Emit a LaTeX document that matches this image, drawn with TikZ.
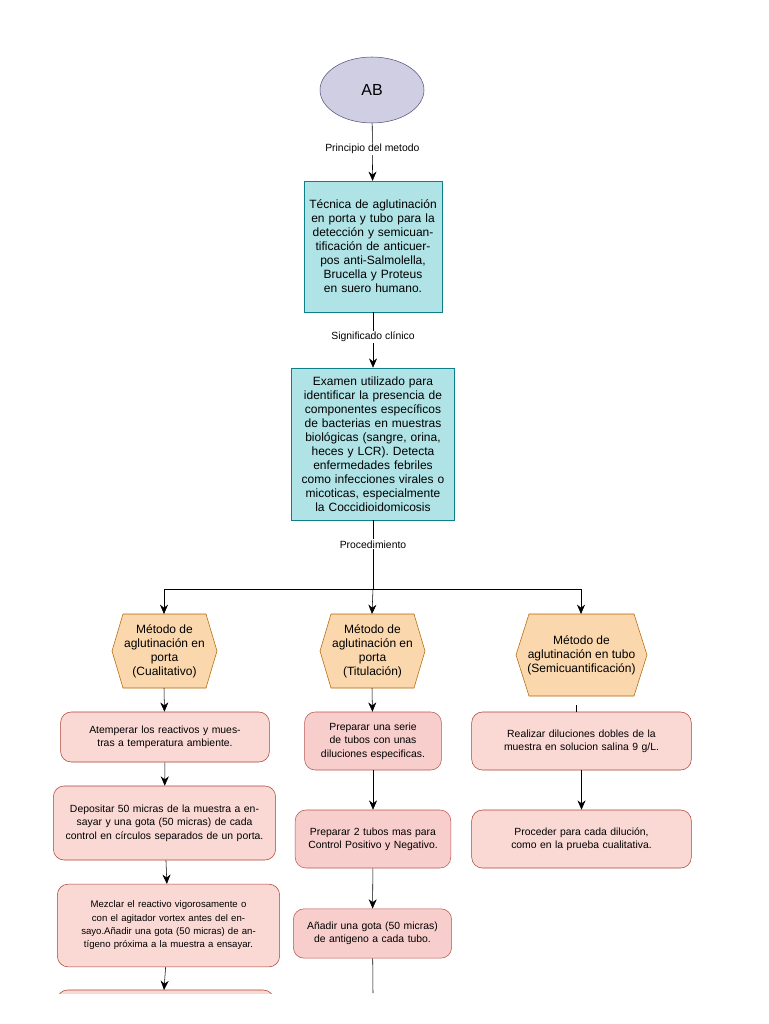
\documentclass[tikz,border=0pt]{standalone}
\usepackage{fontspec}
\setmainfont{Liberation Sans}
\usetikzlibrary{shapes.geometric,arrows.meta}
\definecolor{ellf}{HTML}{D0CEE2}\definecolor{elld}{HTML}{56517E}
\definecolor{cyf}{HTML}{B0E3E6}\definecolor{cyd}{HTML}{0E8088}
\definecolor{orf}{HTML}{FAD7AC}\definecolor{ord}{HTML}{B46504}
\definecolor{pkf}{HTML}{FAD9D5}\definecolor{pkd}{HTML}{AE4132}
\definecolor{pk2f}{HTML}{F8CECC}\definecolor{pk2d}{HTML}{B85450}
\begin{document}
\begin{tikzpicture}[x=0.75pt,y=-0.75pt,
 cy/.style={draw=cyd,fill=cyf,align=center,font=\fontsize{9}{10.5}\selectfont,inner sep=1pt},
 hx/.style={regular polygon,regular polygon sides=6,shape border rotate=30,draw=ord,fill=orf},
 pk/.style={draw=pkd,fill=pkf,rounded corners=8pt,align=center,font=\fontsize{7.8}{10}\selectfont},
 pk2/.style={draw=pk2d,fill=pk2f,rounded corners=8pt,align=center,font=\fontsize{7.8}{10}\selectfont},
 lab/.style={fill=white,font=\fontsize{7.8}{9}\selectfont,inner sep=1pt},
 ar/.style={-{Stealth[length=7pt,width=6pt]},black}]
\useasboundingbox (0,0) rectangle (768,1024);
\fill[white] (0,0) rectangle (768,1024);
% ellipse
\node[ellipse,draw=elld,fill=ellf,minimum width=78pt,minimum height=49.5pt,font=\fontsize{12}{14}\selectfont] (ab) at (372,90) {AB};
\node[cy,minimum width=103.5pt,minimum height=98pt,text width=100pt] (b1) at (373,246.5) {Técnica de aglutinación en porta y tubo para la detección y semicuantificación de anticuerpos anti-Salmolella, Brucella y Proteus en suero humano.};
\node[cy,minimum width=121.5pt,minimum height=114pt,text width=120pt] (b2) at (373,444) {Examen utilizado para identificar la presencia de componentes específicos de bacterias en muestras biológicas (sangre, orina, heces y LCR). Detecta enfermedades febriles\ \ como infecciones virales o micoticas, especialmente la Coccidioidomicosis};
\draw[ar] (ab) -- (b1) node[lab,pos=0.45] {Principio del metodo};
\draw[ar] (b1) -- (b2) node[lab,pos=0.45] {Significado clínico};
% hexagons
\path[draw=ord,fill=orf] (112,651)--(123,614)--(206,614)--(217,651)--(206,688)--(123,688)--cycle;
\node[align=center,font=\fontsize{9}{10.5}\selectfont] (h1) at (164.5,651) {Método de\\aglutinación en\\porta\\(Cualitativo)};
\path[draw=ord,fill=orf] (320,651)--(331,614)--(414,614)--(425,651)--(414,688)--(331,688)--cycle;
\node[align=center,font=\fontsize{9}{10.5}\selectfont] (h2) at (372.5,651) {Método de\\aglutinación en\\porta\\(Titulación)};
\path[draw=ord,fill=orf] (516,655)--(529,614)--(634,614)--(647,655)--(634,696)--(529,696)--cycle;
\node[align=center,font=\fontsize{9}{10.5}\selectfont] (h3) at (581.5,655) {Método de\\aglutinación en tubo\\(Semicuantificación)};
\coordinate (h1t) at (164,614);\coordinate (h2t) at (372,614);\coordinate (h3t) at (581,614);
\coordinate (h1b) at (164,688);\coordinate (h2b) at (372,688);\coordinate (h3b) at (576,705);
\coordinate (j) at (373,589);
\draw (b2) -- (j) node[lab,pos=0.35] {Procedimiento};
\draw (164,589) -- (581,589);
\draw[ar] (164,589) -- (h1t);
\draw[ar] (j) -- (h2t);
\draw[ar] (581,589) -- (h3t);
% left column
\node[pk,minimum width=156pt,minimum height=37.5pt,text width=150pt] (l1) at (165,737) {Atemperar los reactivos y muestras a temperatura ambiente.};
\node[pk,minimum width=163pt,minimum height=55.5pt,text width=160pt] (l2) at (164.5,823) {Depositar 50 micras de la muestra a ensayar y una gota (50 micras) de cada control en círculos separados de un porta.};
\node[pk,minimum width=163pt,minimum height=62pt,text width=160pt,font=\fontsize{7.2}{10}\selectfont] (l3) at (168.5,925.5) {Mezclar el reactivo vigorosamente o con el agitador vortex antes del ensayo.Añadir una gota (50 micras) de antígeno próxima a la muestra a ensayar.};
\begin{scope}
\clip (0,985) rectangle (768,993);
\draw[pkd,fill=pkf,rounded corners=8pt] (57,990) rectangle (274,1060);
\end{scope}
\coordinate (l4) at (164,990);
\draw[ar] (h1b) -- (l1);
\draw[ar] (l1) -- (l2);
\draw[ar] (l2) -- (l3);
\draw[ar] (l3) -- (l4);
% middle column
\node[pk2,minimum width=100.5pt,minimum height=43.5pt,text width=96pt] (m1) at (373,741) {Preparar una serie de tubos con unas diluciones especificas.};
\node[pk2,minimum width=111pt,minimum height=43.5pt,text width=110pt] (m2) at (373,839) {Preparar 2 tubos mas para Control Positivo y Negativo.};
\node[pk2,minimum width=117.5pt,minimum height=37pt,text width=112pt] (m3) at (372.5,933.5) {Añadir una gota (50 micras) de antigeno a cada tubo.};
\coordinate (mend) at (373,993);
\draw[ar] (h2b) -- (m1);
\draw[ar] (m1) -- (m2);
\draw[ar] (m2) -- (m3);
\draw (m3) -- (mend);
% right column
\node[pk,minimum width=163pt,minimum height=43.5pt,text width=158pt] (r1) at (581.5,741) {Realizar diluciones dobles de la muestra en solucion salina 9 g/L.};
\node[pk,minimum width=163pt,minimum height=43.5pt,text width=158pt] (r2) at (581.5,839) {Proceder para cada dilución, como en la prueba cualitativa.};
\draw (h3b) -- (576,712);
\draw[ar] (r1) -- (r2);
\end{tikzpicture}
\end{document}
